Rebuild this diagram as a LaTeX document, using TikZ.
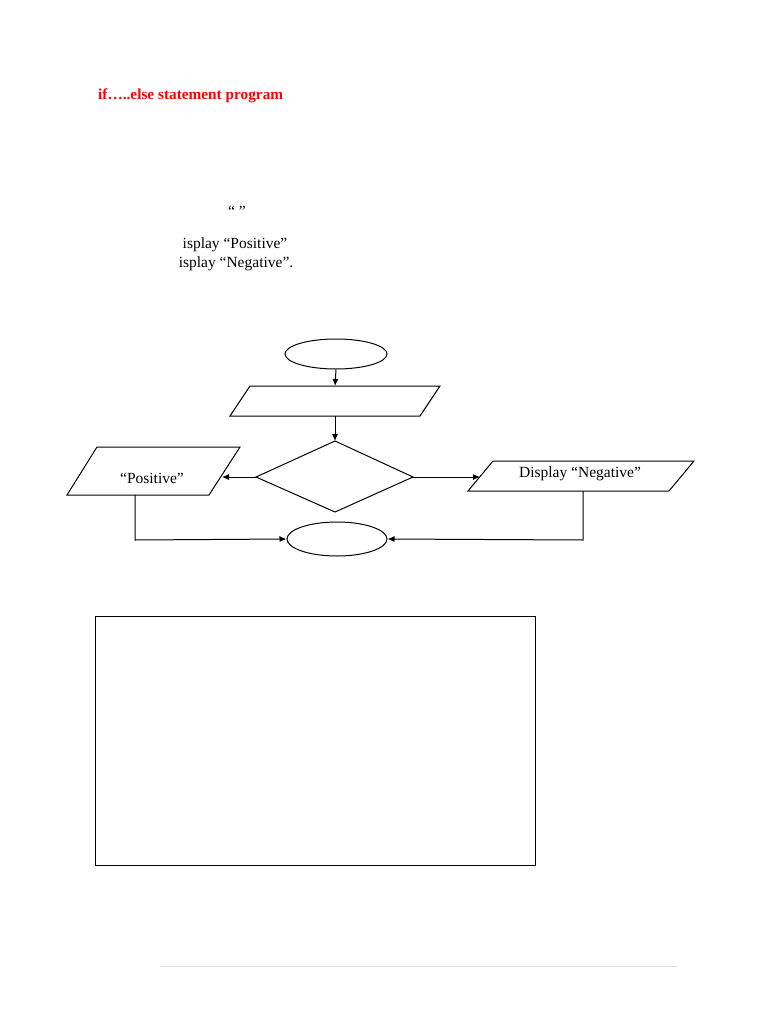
\documentclass[tikz,border=0pt]{standalone}
\usepackage{fontspec}
\setmainfont{Liberation Serif}
\usetikzlibrary{arrows.meta,shapes.geometric}
\begin{document}
\begin{tikzpicture}[x=1pt,y=-1pt,
  shp/.style={draw=black,line width=1pt},
  arr/.style={draw=black,line width=1pt,-{Latex[length=7pt,width=6pt]}},
  txt/.style={font=\fontsize{15.5}{17}\selectfont,inner sep=0pt}]
\useasboundingbox (0,0) rectangle (768,1024);
\node[anchor=west,text=red,font=\bfseries\fontsize{15.3}{17}\selectfont,inner sep=0pt] (title) at (98,96) {if\dots..else statement program};
\node[txt] (q) at (237,211) {“ ”};
\node[txt] (l1) at (235,245) {isplay “Positive”};
\node[txt] (l2) at (236,264) {isplay “Negative”.};
% start ellipse
\node[shp,ellipse,minimum width=102pt,minimum height=30pt,inner sep=0pt] (start) at (336,354) {};
% input parallelogram
\coordinate (inTop) at (335,386); \coordinate (inBot) at (335,416);
\draw[shp] (230,416) -- (250,386) -- (440,386) -- (420,416) -- cycle;
% decision
\coordinate (dT) at (335,441); \coordinate (dL) at (256,477); \coordinate (dR) at (413,477); \coordinate (dB) at (335,512);
\draw[shp] (dT) -- (dR) -- (dB) -- (dL) -- cycle;
% left output
\draw[shp] (67,495) -- (97,447) -- (240,447) -- (209,495) -- cycle;
\node[txt] (pos) at (152,478) {“Positive”};
\coordinate (pR) at (222,477); \coordinate (pB) at (135,495);
% right output
\draw[shp] (468,491) -- (493,461) -- (694,461) -- (669,491) -- cycle;
\node[txt] (neg) at (580,474) {Display “Negative”};
\coordinate (nL) at (480,477); \coordinate (nB) at (583,491);
% end
\node[shp,ellipse,minimum width=100pt,minimum height=34pt,inner sep=0pt] (stop) at (337,539) {};
\coordinate (pC) at (135,540); \coordinate (nC) at (583,540);
\draw[arr] (start.south) -- (inTop);
\draw[arr] (inBot) -- (dT);
\draw[arr] (dL) -- (pR);
\draw[arr] (dR) -- (nL);
\draw[arr] (pB) -- (pC) -- (stop.west);
\draw[arr] (nB) -- (nC) -- (stop.east);
% box
\draw[shp] (95,616) rectangle (535,865);
\draw[black!12,line width=0.6pt] (160,966) -- (677,966);
\end{tikzpicture}
\end{document}
